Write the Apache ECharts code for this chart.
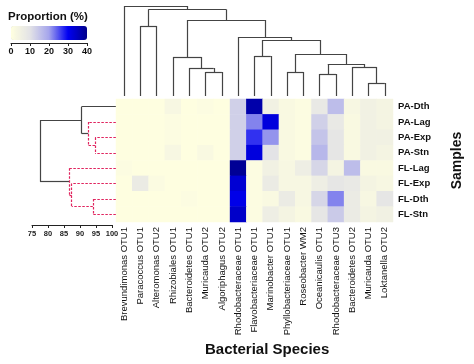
<!DOCTYPE html>
<html><head><meta charset="utf-8">
<script src="https://cdn.jsdelivr.net/npm/echarts@6/dist/echarts.min.js"></script>
<style>html,body{margin:0;padding:0;background:#fff}#c{width:474px;height:364px}</style>
</head><body><div id="c"></div>
<script>
// ---- data ----
const species = ['Brevundimonas OTU1','Paracoccus OTU1','Alteromonas OTU2','Rhizobiales OTU1','Bacteroidetes OTU1','Muricauda OTU2','Algoriphagus OTU2','Rhodobacteraceae OTU1','Flavobacteriaceae OTU1','Marinobacter OTU1','Phyllobacteriaceae OTU1','Roseobacter WM2','Oceanicaulis OTU1','Rhodobacteraceae OTU3','Bacteroidetes OTU2','Muricauda OTU1','Loktanella OTU2'];
const samples = ['PA-Dth','PA-Lag','PA-Exp','PA-Stn','FL-Lag','FL-Exp','FL-Dth','FL-Stn'];
const rowPADth = [0.5,0.5,0.5,3,0.5,1,0.5, 13,37,5,2,1,8,16,3,5,4];
const rowPALag = [0.5,0.5,0.5,1,0.5,0.5,0.5, 13,22,32,2,1,13,8,2,5,4];
const rowPAExp = [0.5,0.5,0.5,1,0.5,0.5,0.5, 13,27,21,2,1,15,9,2,5,5];
const rowPAStn = [0.5,0.5,0.5,3,0.5,2,0.5, 13,32,10,2,1,17,9,2,5,4];
const rowFLLag = [1,0.5,0.5,0.5,0.5,0.5,0.5, 39,1,5,3,6,12,4,16,2,2];
const rowFLExp = [0.5,7,1.5,0.5,0.5,0.5,0.5, 33,1,7,3,3,6,9,8,4,3];
const rowFLDth = [0.5,0.5,0.5,0.5,1,0.5,0.5, 31,1,2,7,3,12,22,7,3,9];
const rowFLStn = [0.5,0.5,0.5,0.5,0.5,0.5,0.5, 34,1,6,4,2,9,14,7,4,5];
const legendTicks = [0,10,20,30,40];
const sampleTreeTicks = [75,80,85,90,95,100];
// column dendrogram (leaf = -(index+1), node = merge step number)
const colLeft   = [-6,-5,-4,-2,-9,-11,-13,-16,-15,7,6,5,-8,3,4,-1];
const colRight  = [-7,1,2,-3,-10,-12,-14,-17,8,9,10,11,12,13,14,15];
const colHeight = [24,28,39,70,40,24,22,13,29,32,42,56,59,76,86.7,90];
// row dendrogram (similarity %)
const rowLeft    = [-3,-2,-1,-7,-6,-5,3];
const rowRight   = [-4,1,2,-8,4,5,6];
const rowHeight  = [94.7,92.6,90.5,94.0,87.4,86.7,77.5];
const rowCluster = [1,1,0,1,1,1,0];

// ---- build ----
const rows = [rowPADth,rowPALag,rowPAExp,rowPAStn,rowFLLag,rowFLExp,rowFLDth,rowFLStn];
const heat = [];
rows.forEach((r,i)=>r.forEach((v,j)=>heat.push([j,i,v])));

function dendro(left,right,height,leafLevel,flags,swap){
  const pos=[]; const segs=[];
  const gp=id=>id<0?(-id-1)+0.5:pos[id-1];
  const gh=id=>id<0?leafLevel:height[id-1];
  const pt=(p,h)=>swap?[h,p]:[p,h];
  for(let k=0;k<left.length;k++){
    const a=left[k],b=right[k],h=height[k];
    const pa=gp(a),pb=gp(b);
    pos[k]=(pa+pb)/2;
    const f=flags?flags[k]:0;
    segs.push({coords:[pt(pa,h),pt(pb,h)],f});
    segs.push({coords:[pt(pa,gh(a)),pt(pa,h)],f});
    segs.push({coords:[pt(pb,gh(b)),pt(pb,h)],f});
  }
  return segs;
}
const colSegs = dendro(colLeft,colRight,colHeight,0,null,false);
const rowSegs = dendro(rowLeft,rowRight,rowHeight,101.2,rowCluster,true);

const FONT = "'Liberation Sans', Arial, sans-serif";
const chart = echarts.init(document.getElementById('c'));
chart.setOption({
  backgroundColor:'#fff',
  animation:false,
  textStyle:{fontFamily:FONT},
  title:[
    {text:'Proportion (%)',left:8,top:11,padding:0,textStyle:{fontSize:11.5,fontWeight:'bold',color:'#111',fontFamily:FONT}},
    {text:'Bacterial Species',left:205,top:342,padding:0,textStyle:{fontSize:15,fontWeight:'bold',color:'#111',fontFamily:FONT}}
  ],
  visualMap:{
    type:'continuous',min:0,max:40,seriesIndex:0,orient:'horizontal',
    left:11,top:26,itemWidth:14,itemHeight:76,padding:0,calculable:false,
    inRange:{color:['#FFFFE0','#E3E3E6','#A4A4EC','#0000F2','#00008B']}
  },
  grid:[
    {left:116,top:99,width:277,height:123},
    {left:116,top:5,width:277,height:91},
    {left:32,top:99,width:80,height:123},
    {left:11,top:26,width:76,height:17}
  ],
  xAxis:[
    {type:'category',gridIndex:0,data:species,axisLine:{show:false},axisTick:{show:false},splitLine:{show:false},
     axisLabel:{rotate:90,interval:0,fontSize:9.5,color:'#111',margin:5,fontFamily:FONT}},
    {type:'value',gridIndex:1,min:0,max:17,show:false},
    {type:'value',gridIndex:2,min:75,max:100,interval:5,offset:3,position:'bottom',
     axisLine:{show:true,onZero:false,lineStyle:{color:'#222',width:1}},axisTick:{show:true,length:3,lineStyle:{color:'#222'}},
     splitLine:{show:false},axisLabel:{fontSize:7.5,fontWeight:'bold',color:'#222',margin:5,fontFamily:FONT,
       formatter:v=>sampleTreeTicks.includes(v)?String(v):''}},
    {type:'value',gridIndex:3,min:0,max:40,interval:10,
     axisLine:{show:true,onZero:false,lineStyle:{color:'#222',width:1}},axisTick:{show:true,length:3,lineStyle:{color:'#222'}},
     splitLine:{show:false},axisLabel:{fontSize:9,fontWeight:'bold',color:'#111',margin:4,fontFamily:FONT,
       formatter:v=>legendTicks.includes(v)?String(v):''}}
  ],
  yAxis:[
    {type:'category',gridIndex:0,data:samples,inverse:true,position:'right',axisLine:{show:false},axisTick:{show:false},
     splitLine:{show:false},axisLabel:{fontSize:9.5,fontWeight:'bold',color:'#111',margin:5,fontFamily:FONT},
     name:'Samples',nameLocation:'middle',nameGap:57,nameRotate:90,
     nameTextStyle:{fontSize:14,fontWeight:'bold',color:'#111',fontFamily:FONT}},
    {type:'value',gridIndex:1,min:0,max:91,show:false},
    {type:'value',gridIndex:2,min:0,max:8,inverse:true,show:false},
    {type:'value',gridIndex:3,min:0,max:1,show:false}
  ],
  series:[
    {type:'heatmap',xAxisIndex:0,yAxisIndex:0,data:heat,itemStyle:{borderWidth:0},emphasis:{disabled:true}},
    {type:'lines',coordinateSystem:'cartesian2d',xAxisIndex:1,yAxisIndex:1,clip:false,silent:true,
     lineStyle:{color:'#444',width:1.2,opacity:1},
     data:colSegs.map(s=>({coords:s.coords}))},
    {type:'lines',coordinateSystem:'cartesian2d',xAxisIndex:2,yAxisIndex:2,clip:false,silent:true,
     lineStyle:{color:'#444',width:1.2,opacity:1},
     data:rowSegs.filter(s=>!s.f).map(s=>({coords:s.coords}))},
    {type:'lines',coordinateSystem:'cartesian2d',xAxisIndex:2,yAxisIndex:2,clip:false,silent:true,
     lineStyle:{color:'#E0245E',width:1.2,type:[2.5,1.5],opacity:1},
     data:rowSegs.filter(s=>s.f).map(s=>({coords:s.coords}))},
    {type:'scatter',xAxisIndex:3,yAxisIndex:3,data:[],silent:true}
  ]
});
</script></body></html>
